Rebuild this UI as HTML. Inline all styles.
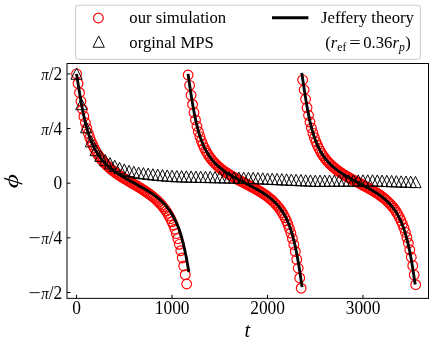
<!DOCTYPE html>
<html><head><meta charset="utf-8"><title>Jeffery orbit</title>
<style>html,body{margin:0;padding:0;background:#fff;}svg{display:block;}text{font-family:"Liberation Serif","DejaVu Serif",serif;fill:#000;}</style></head><body>
<svg width="433" height="343" viewBox="0 0 433 343">
<rect x="0" y="0" width="433" height="343" fill="#fff"/>
<g fill="none" stroke="#f00" stroke-width="1.15">
<circle cx="76.56" cy="73.90" r="4.86"/>
<circle cx="78.03" cy="83.45" r="4.86"/>
<circle cx="79.50" cy="92.68" r="4.86"/>
<circle cx="80.96" cy="101.34" r="4.86"/>
<circle cx="82.43" cy="109.26" r="4.86"/>
<circle cx="83.90" cy="116.39" r="4.86"/>
<circle cx="85.37" cy="122.73" r="4.86"/>
<circle cx="86.84" cy="128.34" r="4.86"/>
<circle cx="88.30" cy="133.28" r="4.86"/>
<circle cx="89.77" cy="137.64" r="4.86"/>
<circle cx="91.24" cy="141.51" r="4.86"/>
<circle cx="92.71" cy="144.95" r="4.86"/>
<circle cx="94.18" cy="148.03" r="4.86"/>
<circle cx="95.64" cy="150.79" r="4.86"/>
<circle cx="97.11" cy="153.29" r="4.86"/>
<circle cx="98.58" cy="155.57" r="4.86"/>
<circle cx="100.05" cy="157.65" r="4.86"/>
<circle cx="101.52" cy="159.56" r="4.86"/>
<circle cx="102.98" cy="161.32" r="4.86"/>
<circle cx="104.45" cy="162.96" r="4.86"/>
<circle cx="105.92" cy="164.49" r="4.86"/>
<circle cx="107.39" cy="165.93" r="4.86"/>
<circle cx="108.86" cy="167.28" r="4.86"/>
<circle cx="110.32" cy="168.56" r="4.86"/>
<circle cx="111.79" cy="169.77" r="4.86"/>
<circle cx="113.26" cy="170.93" r="4.86"/>
<circle cx="114.73" cy="172.04" r="4.86"/>
<circle cx="116.20" cy="173.11" r="4.86"/>
<circle cx="117.67" cy="174.14" r="4.86"/>
<circle cx="119.13" cy="175.13" r="4.86"/>
<circle cx="120.60" cy="176.10" r="4.86"/>
<circle cx="122.07" cy="177.04" r="4.86"/>
<circle cx="123.54" cy="177.97" r="4.86"/>
<circle cx="125.01" cy="178.87" r="4.86"/>
<circle cx="126.47" cy="179.76" r="4.86"/>
<circle cx="127.94" cy="180.64" r="4.86"/>
<circle cx="129.41" cy="181.51" r="4.86"/>
<circle cx="130.88" cy="182.38" r="4.86"/>
<circle cx="132.35" cy="183.25" r="4.86"/>
<circle cx="133.81" cy="184.11" r="4.86"/>
<circle cx="135.28" cy="184.98" r="4.86"/>
<circle cx="136.75" cy="185.85" r="4.86"/>
<circle cx="138.22" cy="186.73" r="4.86"/>
<circle cx="139.69" cy="187.63" r="4.86"/>
<circle cx="141.15" cy="188.53" r="4.86"/>
<circle cx="142.62" cy="189.46" r="4.86"/>
<circle cx="144.09" cy="190.40" r="4.86"/>
<circle cx="145.56" cy="191.37" r="4.86"/>
<circle cx="147.03" cy="192.37" r="4.86"/>
<circle cx="148.49" cy="193.41" r="4.86"/>
<circle cx="149.96" cy="194.48" r="4.86"/>
<circle cx="151.43" cy="195.59" r="4.86"/>
<circle cx="152.90" cy="196.75" r="4.86"/>
<circle cx="154.37" cy="197.98" r="4.86"/>
<circle cx="155.83" cy="199.26" r="4.86"/>
<circle cx="157.30" cy="200.62" r="4.86"/>
<circle cx="158.77" cy="202.07" r="4.86"/>
<circle cx="160.24" cy="203.61" r="4.86"/>
<circle cx="161.71" cy="205.26" r="4.86"/>
<circle cx="163.17" cy="207.04" r="4.86"/>
<circle cx="164.64" cy="208.97" r="4.86"/>
<circle cx="166.11" cy="211.07" r="4.86"/>
<circle cx="167.58" cy="213.36" r="4.86"/>
<circle cx="169.05" cy="215.89" r="4.86"/>
<circle cx="170.51" cy="218.69" r="4.86"/>
<circle cx="171.98" cy="221.80" r="4.86"/>
<circle cx="173.45" cy="225.28" r="4.86"/>
<circle cx="174.92" cy="229.20" r="4.86"/>
<circle cx="176.39" cy="233.62" r="4.86"/>
<circle cx="177.85" cy="238.63" r="4.86"/>
<circle cx="179.32" cy="244.31" r="4.86"/>
<circle cx="180.79" cy="250.73" r="4.86"/>
<circle cx="182.26" cy="257.95" r="4.86"/>
<circle cx="183.73" cy="265.96" r="4.86"/>
<circle cx="185.20" cy="274.69" r="4.86"/>
<circle cx="186.66" cy="283.97" r="4.86"/>
<circle cx="188.13" cy="75.02" r="4.86"/>
<circle cx="189.60" cy="85.37" r="4.86"/>
<circle cx="191.07" cy="95.27" r="4.86"/>
<circle cx="192.54" cy="104.41" r="4.86"/>
<circle cx="194.00" cy="112.63" r="4.86"/>
<circle cx="195.47" cy="119.90" r="4.86"/>
<circle cx="196.94" cy="126.25" r="4.86"/>
<circle cx="198.41" cy="131.78" r="4.86"/>
<circle cx="199.88" cy="136.59" r="4.86"/>
<circle cx="201.34" cy="140.80" r="4.86"/>
<circle cx="202.81" cy="144.49" r="4.86"/>
<circle cx="204.28" cy="147.75" r="4.86"/>
<circle cx="205.75" cy="150.64" r="4.86"/>
<circle cx="207.22" cy="153.23" r="4.86"/>
<circle cx="208.68" cy="155.55" r="4.86"/>
<circle cx="210.15" cy="157.66" r="4.86"/>
<circle cx="211.62" cy="159.58" r="4.86"/>
<circle cx="213.09" cy="161.34" r="4.86"/>
<circle cx="214.56" cy="162.96" r="4.86"/>
<circle cx="216.02" cy="164.46" r="4.86"/>
<circle cx="217.49" cy="165.86" r="4.86"/>
<circle cx="218.96" cy="167.17" r="4.86"/>
<circle cx="220.43" cy="168.39" r="4.86"/>
<circle cx="221.90" cy="169.55" r="4.86"/>
<circle cx="223.36" cy="170.66" r="4.86"/>
<circle cx="224.83" cy="171.70" r="4.86"/>
<circle cx="226.30" cy="172.70" r="4.86"/>
<circle cx="227.77" cy="173.66" r="4.86"/>
<circle cx="229.24" cy="174.59" r="4.86"/>
<circle cx="230.70" cy="175.48" r="4.86"/>
<circle cx="232.17" cy="176.35" r="4.86"/>
<circle cx="233.64" cy="177.19" r="4.86"/>
<circle cx="235.11" cy="178.02" r="4.86"/>
<circle cx="236.58" cy="178.83" r="4.86"/>
<circle cx="238.04" cy="179.62" r="4.86"/>
<circle cx="239.51" cy="180.40" r="4.86"/>
<circle cx="240.98" cy="181.17" r="4.86"/>
<circle cx="242.45" cy="181.94" r="4.86"/>
<circle cx="243.92" cy="182.70" r="4.86"/>
<circle cx="245.38" cy="183.47" r="4.86"/>
<circle cx="246.85" cy="184.23" r="4.86"/>
<circle cx="248.32" cy="184.99" r="4.86"/>
<circle cx="249.79" cy="185.76" r="4.86"/>
<circle cx="251.26" cy="186.54" r="4.86"/>
<circle cx="252.73" cy="187.33" r="4.86"/>
<circle cx="254.19" cy="188.13" r="4.86"/>
<circle cx="255.66" cy="188.95" r="4.86"/>
<circle cx="257.13" cy="189.79" r="4.86"/>
<circle cx="258.60" cy="190.65" r="4.86"/>
<circle cx="260.07" cy="191.54" r="4.86"/>
<circle cx="261.53" cy="192.45" r="4.86"/>
<circle cx="263.00" cy="193.40" r="4.86"/>
<circle cx="264.47" cy="194.39" r="4.86"/>
<circle cx="265.94" cy="195.42" r="4.86"/>
<circle cx="267.41" cy="196.51" r="4.86"/>
<circle cx="268.87" cy="197.65" r="4.86"/>
<circle cx="270.34" cy="198.85" r="4.86"/>
<circle cx="271.81" cy="200.14" r="4.86"/>
<circle cx="273.28" cy="201.51" r="4.86"/>
<circle cx="274.75" cy="202.97" r="4.86"/>
<circle cx="276.21" cy="204.56" r="4.86"/>
<circle cx="277.68" cy="206.27" r="4.86"/>
<circle cx="279.15" cy="208.14" r="4.86"/>
<circle cx="280.62" cy="210.19" r="4.86"/>
<circle cx="282.09" cy="212.44" r="4.86"/>
<circle cx="283.55" cy="214.95" r="4.86"/>
<circle cx="285.02" cy="217.74" r="4.86"/>
<circle cx="286.49" cy="220.88" r="4.86"/>
<circle cx="287.96" cy="224.43" r="4.86"/>
<circle cx="289.43" cy="228.47" r="4.86"/>
<circle cx="290.89" cy="233.09" r="4.86"/>
<circle cx="292.36" cy="238.39" r="4.86"/>
<circle cx="293.83" cy="244.48" r="4.86"/>
<circle cx="295.30" cy="251.46" r="4.86"/>
<circle cx="296.77" cy="259.39" r="4.86"/>
<circle cx="298.23" cy="268.27" r="4.86"/>
<circle cx="299.70" cy="277.96" r="4.86"/>
<circle cx="301.17" cy="288.21" r="4.86"/>
<circle cx="302.64" cy="79.86" r="4.86"/>
<circle cx="304.11" cy="89.76" r="4.86"/>
<circle cx="305.57" cy="99.10" r="4.86"/>
<circle cx="307.04" cy="107.64" r="4.86"/>
<circle cx="308.51" cy="115.29" r="4.86"/>
<circle cx="309.98" cy="122.05" r="4.86"/>
<circle cx="311.45" cy="127.97" r="4.86"/>
<circle cx="312.91" cy="133.15" r="4.86"/>
<circle cx="314.38" cy="137.68" r="4.86"/>
<circle cx="315.85" cy="141.66" r="4.86"/>
<circle cx="317.32" cy="145.17" r="4.86"/>
<circle cx="318.79" cy="148.28" r="4.86"/>
<circle cx="320.26" cy="151.06" r="4.86"/>
<circle cx="321.72" cy="153.56" r="4.86"/>
<circle cx="323.19" cy="155.81" r="4.86"/>
<circle cx="324.66" cy="157.86" r="4.86"/>
<circle cx="326.13" cy="159.73" r="4.86"/>
<circle cx="327.60" cy="161.45" r="4.86"/>
<circle cx="329.06" cy="163.05" r="4.86"/>
<circle cx="330.53" cy="164.52" r="4.86"/>
<circle cx="332.00" cy="165.90" r="4.86"/>
<circle cx="333.47" cy="167.20" r="4.86"/>
<circle cx="334.94" cy="168.42" r="4.86"/>
<circle cx="336.40" cy="169.57" r="4.86"/>
<circle cx="337.87" cy="170.66" r="4.86"/>
<circle cx="339.34" cy="171.71" r="4.86"/>
<circle cx="340.81" cy="172.71" r="4.86"/>
<circle cx="342.28" cy="173.67" r="4.86"/>
<circle cx="343.74" cy="174.59" r="4.86"/>
<circle cx="345.21" cy="175.49" r="4.86"/>
<circle cx="346.68" cy="176.36" r="4.86"/>
<circle cx="348.15" cy="177.20" r="4.86"/>
<circle cx="349.62" cy="178.03" r="4.86"/>
<circle cx="351.08" cy="178.84" r="4.86"/>
<circle cx="352.55" cy="179.64" r="4.86"/>
<circle cx="354.02" cy="180.43" r="4.86"/>
<circle cx="355.49" cy="181.20" r="4.86"/>
<circle cx="356.96" cy="181.98" r="4.86"/>
<circle cx="358.42" cy="182.75" r="4.86"/>
<circle cx="359.89" cy="183.51" r="4.86"/>
<circle cx="361.36" cy="184.28" r="4.86"/>
<circle cx="362.83" cy="185.05" r="4.86"/>
<circle cx="364.30" cy="185.83" r="4.86"/>
<circle cx="365.76" cy="186.61" r="4.86"/>
<circle cx="367.23" cy="187.41" r="4.86"/>
<circle cx="368.70" cy="188.22" r="4.86"/>
<circle cx="370.17" cy="189.04" r="4.86"/>
<circle cx="371.64" cy="189.88" r="4.86"/>
<circle cx="373.10" cy="190.75" r="4.86"/>
<circle cx="374.57" cy="191.64" r="4.86"/>
<circle cx="376.04" cy="192.56" r="4.86"/>
<circle cx="377.51" cy="193.51" r="4.86"/>
<circle cx="378.98" cy="194.50" r="4.86"/>
<circle cx="380.44" cy="195.54" r="4.86"/>
<circle cx="381.91" cy="196.62" r="4.86"/>
<circle cx="383.38" cy="197.77" r="4.86"/>
<circle cx="384.85" cy="198.97" r="4.86"/>
<circle cx="386.32" cy="200.25" r="4.86"/>
<circle cx="387.78" cy="201.61" r="4.86"/>
<circle cx="389.25" cy="203.07" r="4.86"/>
<circle cx="390.72" cy="204.64" r="4.86"/>
<circle cx="392.19" cy="206.34" r="4.86"/>
<circle cx="393.66" cy="208.18" r="4.86"/>
<circle cx="395.13" cy="210.20" r="4.86"/>
<circle cx="396.59" cy="212.41" r="4.86"/>
<circle cx="398.06" cy="214.86" r="4.86"/>
<circle cx="399.53" cy="217.58" r="4.86"/>
<circle cx="401.00" cy="220.63" r="4.86"/>
<circle cx="402.47" cy="224.06" r="4.86"/>
<circle cx="403.93" cy="227.94" r="4.86"/>
<circle cx="405.40" cy="232.36" r="4.86"/>
<circle cx="406.87" cy="237.41" r="4.86"/>
<circle cx="408.34" cy="243.19" r="4.86"/>
<circle cx="409.81" cy="249.79" r="4.86"/>
<circle cx="411.27" cy="257.27" r="4.86"/>
<circle cx="412.74" cy="265.65" r="4.86"/>
<circle cx="414.21" cy="274.86" r="4.86"/>
<circle cx="415.68" cy="284.67" r="4.86"/>
</g>
<g fill="none" stroke="#000" stroke-width="0.95" stroke-linejoin="miter">
<path d="M76.56,67.95 L70.91,79.25 L82.21,79.25 Z M81.33,98.45 L75.68,109.75 L86.98,109.75 Z M86.11,121.45 L80.46,132.75 L91.76,132.75 Z M90.88,135.55 L85.23,146.85 L96.53,146.85 Z M95.65,144.35 L90.00,155.65 L101.30,155.65 Z M100.43,150.15 L94.78,161.45 L106.08,161.45 Z M105.20,154.45 L99.55,165.75 L110.85,165.75 Z M109.97,157.65 L104.32,168.95 L115.62,168.95 Z M114.75,160.25 L109.10,171.55 L120.40,171.55 Z M119.52,162.35 L113.87,173.65 L125.17,173.65 Z M124.30,163.95 L118.64,175.25 L129.94,175.25 Z M129.07,165.25 L123.42,176.55 L134.72,176.55 Z M133.84,166.35 L128.19,177.65 L139.49,177.65 Z M138.62,167.15 L132.97,178.45 L144.27,178.45 Z M143.39,167.65 L137.74,178.95 L149.04,178.95 Z M148.16,168.15 L142.51,179.45 L153.81,179.45 Z M152.94,168.75 L147.29,180.05 L158.59,180.05 Z M157.71,169.15 L152.06,180.45 L163.36,180.45 Z M162.48,169.55 L156.83,180.85 L168.13,180.85 Z M167.26,169.95 L161.61,181.25 L172.91,181.25 Z M172.03,170.25 L166.38,181.55 L177.68,181.55 Z M176.80,170.55 L171.15,181.85 L182.45,181.85 Z M181.58,170.65 L175.93,181.95 L187.23,181.95 Z M186.35,170.85 L180.70,182.15 L192.00,182.15 Z M191.12,170.95 L185.47,182.25 L196.77,182.25 Z M195.90,171.10 L190.25,182.40 L201.55,182.40 Z M200.67,171.15 L195.02,182.45 L206.32,182.45 Z M205.44,171.26 L199.79,182.56 L211.09,182.56 Z M210.22,171.37 L204.57,182.67 L215.87,182.67 Z M214.99,171.48 L209.34,182.78 L220.64,182.78 Z M219.77,171.59 L214.12,182.89 L225.42,182.89 Z M224.54,171.70 L218.89,183.00 L230.19,183.00 Z M229.31,171.80 L223.66,183.10 L234.96,183.10 Z M234.09,171.91 L228.44,183.21 L239.74,183.21 Z M238.86,172.02 L233.21,183.32 L244.51,183.32 Z M243.63,172.13 L237.98,183.43 L249.28,183.43 Z M248.41,172.24 L242.76,183.54 L254.06,183.54 Z M253.18,172.35 L247.53,183.65 L258.83,183.65 Z M257.95,172.57 L252.30,183.87 L263.60,183.87 Z M262.73,172.78 L257.08,184.08 L268.38,184.08 Z M267.50,173.00 L261.85,184.30 L273.15,184.30 Z M272.27,173.21 L266.62,184.51 L277.92,184.51 Z M277.05,173.43 L271.40,184.73 L282.70,184.73 Z M281.82,173.64 L276.17,184.94 L287.47,184.94 Z M286.59,173.86 L280.94,185.16 L292.24,185.16 Z M291.37,174.07 L285.72,185.37 L297.02,185.37 Z M296.14,174.29 L290.49,185.59 L301.79,185.59 Z M300.91,174.50 L295.26,185.80 L306.56,185.80 Z M305.69,174.72 L300.04,186.02 L311.34,186.02 Z M310.46,174.93 L304.81,186.23 L316.11,186.23 Z M315.24,175.15 L309.59,186.45 L320.88,186.45 Z M320.01,175.12 L314.36,186.42 L325.66,186.42 Z M324.78,175.08 L319.13,186.38 L330.43,186.38 Z M329.56,175.05 L323.91,186.35 L335.21,186.35 Z M334.33,175.02 L328.68,186.32 L339.98,186.32 Z M339.10,174.98 L333.45,186.28 L344.75,186.28 Z M343.88,174.95 L338.23,186.25 L349.53,186.25 Z M348.65,174.92 L343.00,186.22 L354.30,186.22 Z M353.42,174.88 L347.77,186.18 L359.07,186.18 Z M358.20,174.85 L352.55,186.15 L363.85,186.15 Z M362.97,174.82 L357.32,186.12 L368.62,186.12 Z M367.74,174.78 L362.09,186.08 L373.39,186.08 Z M372.52,174.75 L366.87,186.05 L378.17,186.05 Z M377.29,174.93 L371.64,186.23 L382.94,186.23 Z M382.06,175.11 L376.41,186.41 L387.71,186.41 Z M386.84,175.28 L381.19,186.58 L392.49,186.58 Z M391.61,175.46 L385.96,186.76 L397.26,186.76 Z M396.38,175.64 L390.73,186.94 L402.03,186.94 Z M401.16,175.82 L395.51,187.12 L406.81,187.12 Z M405.93,175.99 L400.28,187.29 L411.58,187.29 Z M410.70,176.17 L405.06,187.47 L416.35,187.47 Z M415.48,176.35 L409.83,187.65 L421.13,187.65 Z"/>
</g>
<g fill="none" stroke="#000" stroke-width="2.85" stroke-linecap="butt" stroke-linejoin="round">
<path d="M76.56,73.90 L77.03,76.95 L77.50,79.99 L77.96,83.01 L78.43,86.00 L78.90,88.94 L79.37,91.84 L79.83,94.68 L80.30,97.46 L80.77,100.17 L81.24,102.81 L81.71,105.36 L82.17,107.84 L82.64,110.24 L83.11,112.56 L83.58,114.79 L84.04,116.94 L84.51,119.02 L84.98,121.01 L85.45,122.93 L85.92,124.77 L86.38,126.54 L86.85,128.24 L87.32,129.87 L87.79,131.44 L88.26,132.95 L88.72,134.40 L89.19,135.79 L89.66,137.13 L90.13,138.42 L90.59,139.66 L91.06,140.85 L91.53,142.00 L92.00,143.11 L92.47,144.18 L92.93,145.21 L93.40,146.20 L93.87,147.16 L94.34,148.08 L94.80,148.98 L95.27,149.84 L95.74,150.68 L96.21,151.49 L96.68,152.28 L97.14,153.04 L97.61,153.78 L98.08,154.50 L98.55,155.19 L99.01,155.87 L99.48,156.52 L99.95,157.16 L100.42,157.79 L100.89,158.39 L101.35,158.98 L101.82,159.55 L102.29,160.12 L102.76,160.66 L103.22,161.20 L103.69,161.72 L104.16,162.23 L104.63,162.72 L105.10,163.21 L105.56,163.69 L106.03,164.15 L106.50,164.61 L106.97,165.05 L107.43,165.49 L107.90,165.92 L108.37,166.34 L108.84,166.76 L109.31,167.16 L109.77,167.56 L110.24,167.96 L110.71,168.34 L111.18,168.72 L111.65,169.09 L112.11,169.46 L112.58,169.82 L113.05,170.18 L113.52,170.53 L113.98,170.87 L114.45,171.22 L114.92,171.55 L115.39,171.88 L115.86,172.21 L116.32,172.54 L116.79,172.86 L117.26,173.17 L117.73,173.49 L118.19,173.79 L118.66,174.10 L119.13,174.40 L119.60,174.70 L120.07,175.00 L120.53,175.29 L121.00,175.58 L121.47,175.87 L121.94,176.16 L122.40,176.44 L122.87,176.73 L123.34,177.01 L123.81,177.28 L124.28,177.56 L124.74,177.83 L125.21,178.11 L125.68,178.38 L126.15,178.65 L126.61,178.91 L127.08,179.18 L127.55,179.45 L128.02,179.71 L128.49,179.97 L128.95,180.24 L129.42,180.50 L129.89,180.76 L130.36,181.02 L130.83,181.28 L131.29,181.54 L131.76,181.79 L132.23,182.05 L132.70,182.31 L133.16,182.57 L133.63,182.82 L134.10,183.08 L134.57,183.34 L135.04,183.59 L135.50,183.85 L135.97,184.11 L136.44,184.36 L136.91,184.62 L137.37,184.88 L137.84,185.14 L138.31,185.40 L138.78,185.66 L139.25,185.92 L139.71,186.18 L140.18,186.44 L140.65,186.71 L141.12,186.97 L141.58,187.24 L142.05,187.50 L142.52,187.77 L142.99,188.04 L143.46,188.31 L143.92,188.58 L144.39,188.86 L144.86,189.13 L145.33,189.41 L145.79,189.69 L146.26,189.97 L146.73,190.26 L147.20,190.54 L147.67,190.83 L148.13,191.12 L148.60,191.42 L149.07,191.72 L149.54,192.02 L150.01,192.32 L150.47,192.62 L150.94,192.93 L151.41,193.25 L151.88,193.56 L152.34,193.88 L152.81,194.21 L153.28,194.54 L153.75,194.87 L154.22,195.20 L154.68,195.55 L155.15,195.89 L155.62,196.24 L156.09,196.60 L156.55,196.96 L157.02,197.33 L157.49,197.70 L157.96,198.08 L158.43,198.47 L158.89,198.86 L159.36,199.26 L159.83,199.67 L160.30,200.08 L160.76,200.50 L161.23,200.93 L161.70,201.37 L162.17,201.82 L162.64,202.28 L163.10,202.74 L163.57,203.22 L164.04,203.71 L164.51,204.21 L164.97,204.72 L165.44,205.24 L165.91,205.77 L166.38,206.32 L166.85,206.88 L167.31,207.46 L167.78,208.05 L168.25,208.65 L168.72,209.28 L169.18,209.92 L169.65,210.57 L170.12,211.25 L170.59,211.95 L171.06,212.67 L171.52,213.41 L171.99,214.17 L172.46,214.96 L172.93,215.77 L173.40,216.61 L173.86,217.48 L174.33,218.37 L174.80,219.30 L175.27,220.26 L175.73,221.26 L176.20,222.29 L176.67,223.36 L177.14,224.47 L177.61,225.62 L178.07,226.81 L178.54,228.06 L179.01,229.35 L179.48,230.69 L179.94,232.09 L180.41,233.54 L180.88,235.05 L181.35,236.62 L181.82,238.26 L182.28,239.97 L182.75,241.74 L183.22,243.59 L183.69,245.51 L184.15,247.51 L184.62,249.59 L185.09,251.74 L185.56,253.98 L186.03,256.30 L186.49,258.71 L186.96,261.19 L187.43,263.75 L187.90,266.39 L188.36,269.11 L188.83,271.89"/>
<path d="M188.07,73.90 L188.54,77.25 L189.02,80.58 L189.49,83.89 L189.97,87.15 L190.44,90.36 L190.92,93.51 L191.39,96.58 L191.87,99.57 L192.34,102.47 L192.82,105.28 L193.29,108.00 L193.77,110.61 L194.24,113.12 L194.72,115.54 L195.19,117.85 L195.67,120.07 L196.14,122.20 L196.62,124.23 L197.09,126.18 L197.57,128.04 L198.04,129.82 L198.52,131.52 L198.99,133.15 L199.47,134.71 L199.94,136.20 L200.42,137.63 L200.89,139.00 L201.37,140.31 L201.84,141.56 L202.32,142.77 L202.79,143.92 L203.27,145.04 L203.74,146.10 L204.22,147.13 L204.69,148.12 L205.17,149.07 L205.64,149.99 L206.12,150.87 L206.59,151.72 L207.07,152.55 L207.54,153.34 L208.02,154.11 L208.49,154.85 L208.97,155.58 L209.44,156.27 L209.92,156.95 L210.39,157.60 L210.87,158.24 L211.34,158.86 L211.82,159.46 L212.29,160.04 L212.77,160.61 L213.24,161.16 L213.72,161.70 L214.19,162.23 L214.67,162.74 L215.14,163.24 L215.62,163.73 L216.09,164.20 L216.57,164.67 L217.04,165.12 L217.52,165.57 L217.99,166.00 L218.47,166.43 L218.94,166.84 L219.42,167.25 L219.89,167.65 L220.37,168.05 L220.84,168.43 L221.32,168.81 L221.79,169.18 L222.27,169.55 L222.74,169.91 L223.22,170.26 L223.69,170.61 L224.17,170.95 L224.64,171.29 L225.12,171.62 L225.59,171.95 L226.07,172.27 L226.54,172.59 L227.02,172.90 L227.49,173.21 L227.97,173.52 L228.44,173.82 L228.92,174.12 L229.39,174.41 L229.87,174.70 L230.34,174.99 L230.82,175.28 L231.29,175.56 L231.77,175.84 L232.24,176.12 L232.72,176.40 L233.19,176.67 L233.67,176.94 L234.14,177.21 L234.62,177.47 L235.09,177.74 L235.57,178.00 L236.04,178.26 L236.52,178.52 L236.99,178.78 L237.47,179.03 L237.94,179.29 L238.42,179.54 L238.89,179.79 L239.36,180.05 L239.84,180.30 L240.31,180.54 L240.79,180.79 L241.26,181.04 L241.74,181.29 L242.21,181.53 L242.69,181.78 L243.16,182.03 L243.64,182.27 L244.11,182.51 L244.59,182.76 L245.06,183.00 L245.54,183.25 L246.01,183.49 L246.49,183.74 L246.96,183.98 L247.44,184.23 L247.91,184.47 L248.39,184.72 L248.86,184.96 L249.34,185.21 L249.81,185.46 L250.29,185.70 L250.76,185.95 L251.24,186.20 L251.71,186.45 L252.19,186.70 L252.66,186.96 L253.14,187.21 L253.61,187.47 L254.09,187.72 L254.56,187.98 L255.04,188.24 L255.51,188.50 L255.99,188.77 L256.46,189.03 L256.94,189.30 L257.41,189.57 L257.89,189.84 L258.36,190.11 L258.84,190.39 L259.31,190.67 L259.79,190.95 L260.26,191.23 L260.74,191.52 L261.21,191.81 L261.69,192.10 L262.16,192.40 L262.64,192.70 L263.11,193.00 L263.59,193.31 L264.06,193.62 L264.54,193.94 L265.01,194.26 L265.49,194.58 L265.96,194.91 L266.44,195.24 L266.91,195.58 L267.39,195.93 L267.86,196.28 L268.34,196.63 L268.81,197.00 L269.29,197.36 L269.76,197.74 L270.24,198.12 L270.71,198.51 L271.19,198.90 L271.66,199.31 L272.14,199.72 L272.61,200.14 L273.09,200.57 L273.56,201.01 L274.04,201.46 L274.51,201.91 L274.99,202.38 L275.46,202.86 L275.94,203.36 L276.41,203.86 L276.89,204.38 L277.36,204.91 L277.84,205.45 L278.31,206.01 L278.79,206.58 L279.26,207.17 L279.74,207.78 L280.21,208.41 L280.69,209.05 L281.16,209.71 L281.64,210.40 L282.11,211.10 L282.59,211.83 L283.06,212.59 L283.54,213.37 L284.01,214.17 L284.49,215.01 L284.96,215.87 L285.44,216.77 L285.91,217.70 L286.39,218.66 L286.86,219.67 L287.34,220.71 L287.81,221.79 L288.29,222.92 L288.76,224.10 L289.24,225.32 L289.71,226.60 L290.19,227.93 L290.66,229.32 L291.14,230.77 L291.61,232.29 L292.09,233.88 L292.56,235.53 L293.04,237.27 L293.51,239.08 L293.99,240.97 L294.46,242.95 L294.94,245.02 L295.41,247.19 L295.89,249.44 L296.36,251.80 L296.84,254.25 L297.31,256.80 L297.79,259.46 L298.26,262.21 L298.74,265.05 L299.21,267.99 L299.69,271.01 L300.16,274.11 L300.64,277.29 L301.11,280.52 L301.59,283.80 L302.06,287.12"/>
<path d="M301.84,72.90 L301.96,73.90 L302.44,77.18 L302.91,80.44 L303.38,83.68 L303.85,86.88 L304.32,90.02 L304.80,93.11 L305.27,96.13 L305.74,99.07 L306.21,101.92 L306.68,104.69 L307.15,107.37 L307.63,109.95 L308.10,112.44 L308.57,114.83 L309.04,117.13 L309.51,119.34 L309.98,121.45 L310.46,123.48 L310.93,125.42 L311.40,127.28 L311.87,129.06 L312.34,130.76 L312.82,132.40 L313.29,133.96 L313.76,135.45 L314.23,136.89 L314.70,138.26 L315.17,139.58 L315.65,140.85 L316.12,142.06 L316.59,143.23 L317.06,144.35 L317.53,145.42 L318.01,146.46 L318.48,147.46 L318.95,148.42 L319.42,149.35 L319.89,150.24 L320.36,151.11 L320.84,151.94 L321.31,152.75 L321.78,153.53 L322.25,154.28 L322.72,155.01 L323.19,155.72 L323.67,156.40 L324.14,157.07 L324.61,157.72 L325.08,158.34 L325.55,158.95 L326.03,159.55 L326.50,160.12 L326.97,160.68 L327.44,161.23 L327.91,161.77 L328.38,162.29 L328.86,162.79 L329.33,163.29 L329.80,163.77 L330.27,164.24 L330.74,164.71 L331.22,165.16 L331.69,165.60 L332.16,166.03 L332.63,166.46 L333.10,166.87 L333.57,167.28 L334.05,167.68 L334.52,168.08 L334.99,168.46 L335.46,168.84 L335.93,169.21 L336.40,169.58 L336.88,169.94 L337.35,170.29 L337.82,170.64 L338.29,170.98 L338.76,171.32 L339.24,171.65 L339.71,171.98 L340.18,172.31 L340.65,172.62 L341.12,172.94 L341.59,173.25 L342.07,173.56 L342.54,173.86 L343.01,174.16 L343.48,174.46 L343.95,174.75 L344.42,175.05 L344.90,175.33 L345.37,175.62 L345.84,175.90 L346.31,176.18 L346.78,176.46 L347.26,176.73 L347.73,177.01 L348.20,177.28 L348.67,177.55 L349.14,177.81 L349.61,178.08 L350.09,178.34 L350.56,178.60 L351.03,178.86 L351.50,179.12 L351.97,179.38 L352.45,179.64 L352.92,179.89 L353.39,180.15 L353.86,180.40 L354.33,180.65 L354.80,180.91 L355.28,181.16 L355.75,181.41 L356.22,181.66 L356.69,181.91 L357.16,182.15 L357.63,182.40 L358.11,182.65 L358.58,182.90 L359.05,183.15 L359.52,183.39 L359.99,183.64 L360.47,183.89 L360.94,184.14 L361.41,184.39 L361.88,184.64 L362.35,184.89 L362.82,185.14 L363.30,185.39 L363.77,185.64 L364.24,185.89 L364.71,186.14 L365.18,186.40 L365.66,186.65 L366.13,186.91 L366.60,187.17 L367.07,187.42 L367.54,187.68 L368.01,187.95 L368.49,188.21 L368.96,188.47 L369.43,188.74 L369.90,189.01 L370.37,189.28 L370.84,189.55 L371.32,189.82 L371.79,190.10 L372.26,190.38 L372.73,190.66 L373.20,190.94 L373.68,191.23 L374.15,191.52 L374.62,191.81 L375.09,192.11 L375.56,192.41 L376.03,192.71 L376.51,193.02 L376.98,193.33 L377.45,193.64 L377.92,193.96 L378.39,194.28 L378.86,194.61 L379.34,194.94 L379.81,195.27 L380.28,195.61 L380.75,195.96 L381.22,196.31 L381.70,196.67 L382.17,197.03 L382.64,197.40 L383.11,197.78 L383.58,198.16 L384.05,198.55 L384.53,198.95 L385.00,199.35 L385.47,199.76 L385.94,200.18 L386.41,200.61 L386.89,201.05 L387.36,201.50 L387.83,201.96 L388.30,202.42 L388.77,202.90 L389.24,203.39 L389.72,203.90 L390.19,204.41 L390.66,204.94 L391.13,205.48 L391.60,206.03 L392.07,206.61 L392.55,207.19 L393.02,207.79 L393.49,208.41 L393.96,209.05 L394.43,209.71 L394.91,210.39 L395.38,211.08 L395.85,211.80 L396.32,212.55 L396.79,213.32 L397.26,214.11 L397.74,214.93 L398.21,215.78 L398.68,216.66 L399.15,217.58 L399.62,218.52 L400.10,219.51 L400.57,220.53 L401.04,221.59 L401.51,222.69 L401.98,223.84 L402.45,225.03 L402.93,226.27 L403.40,227.57 L403.87,228.92 L404.34,230.32 L404.81,231.79 L405.28,233.33 L405.76,234.93 L406.23,236.60 L406.70,238.35 L407.17,240.17 L407.64,242.08 L408.12,244.07 L408.59,246.15 L409.06,248.31 L409.53,250.57 L410.00,252.92 L410.47,255.37 L410.95,257.91 L411.42,260.55 L411.89,263.28 L412.36,266.10 L412.83,269.00 L413.30,271.99 L413.78,275.05 L414.25,278.17 L414.72,281.35 L415.19,284.57"/>
</g>
<rect x="67.00" y="63.50" width="361.50" height="234.85" fill="none" stroke="#000" stroke-width="1"/>
<path d="M76.56,298.35 v-3.50 M172.03,298.35 v-3.50 M267.50,298.35 v-3.50 M362.97,298.35 v-3.50 M67.00,73.90 h3.50 M67.00,128.55 h3.50 M67.00,183.20 h3.50 M67.00,237.85 h3.50 M67.00,292.50 h3.50" stroke="#000" stroke-width="1" fill="none"/>
<text transform="translate(76.66,314.3) scale(1,1.06)" font-size="17.4" text-anchor="middle">0</text>
<text transform="translate(172.13,314.3) scale(1,1.06)" font-size="17.4" text-anchor="middle">1000</text>
<text transform="translate(267.60,314.3) scale(1,1.06)" font-size="17.4" text-anchor="middle">2000</text>
<text transform="translate(363.07,314.3) scale(1,1.06)" font-size="17.4" text-anchor="middle">3000</text>
<text transform="translate(62.2,80.10) scale(1,1.06)" font-size="17.4" text-anchor="end"><tspan font-style="italic" font-size="15">π</tspan>/2</text>
<text transform="translate(62.2,134.75) scale(1,1.06)" font-size="17.4" text-anchor="end"><tspan font-style="italic" font-size="15">π</tspan>/4</text>
<text transform="translate(62.2,189.40) scale(1,1.06)" font-size="17.4" text-anchor="end">0</text>
<text transform="translate(62.2,244.05) scale(1,1.06)" font-size="17.4" text-anchor="end"><tspan font-style="italic" font-size="15">π</tspan>/4</text>
<text transform="translate(62.2,298.70) scale(1,1.06)" font-size="17.4" text-anchor="end"><tspan font-style="italic" font-size="15">π</tspan>/2</text>
<text transform="translate(40.7,244.05) scale(1.25,1.06)" font-size="17.4" text-anchor="end">−</text>
<text transform="translate(40.7,298.70) scale(1.25,1.06)" font-size="17.4" text-anchor="end">−</text>
<text x="247.4" y="337.2" font-size="20.5" font-style="italic" text-anchor="middle">t</text>
<text transform="translate(17.6,181.5) rotate(-90) scale(1.36,1) skewX(-3)" font-size="20" font-style="italic" text-anchor="middle">ϕ</text>
<rect x="75.5" y="5.2" width="344.8" height="54.1" rx="2.8" ry="2.8" fill="#fff" stroke="#ccc" stroke-width="1"/>
<circle cx="98.4" cy="18" r="4.86" fill="none" stroke="#f00" stroke-width="1.15"/>
<path d="M98.70,35.95 L93.05,47.25 L104.35,47.25 Z" fill="none" stroke="#000" stroke-width="0.95"/>
<path d="M272,17.7 H308.4" fill="none" stroke="#000" stroke-width="2.85"/>
<text transform="translate(129.3,23.4) scale(1,1.04)" font-size="16.7">our simulation</text>
<text transform="translate(129.3,47.6) scale(1,1.04)" font-size="16.7">orginal MPS</text>
<text transform="translate(321.1,23.4) scale(1,1.04)" font-size="16.7">Jeffery theory</text>
<text transform="translate(0,47.9) scale(1,1.04)" font-size="16.7"><tspan x="325.2">(</tspan><tspan font-style="italic">r</tspan><tspan font-size="11.6" dy="2.6">ef</tspan><tspan dy="-2.6" x="363.2">0.36</tspan><tspan font-style="italic">r</tspan><tspan font-size="11.6" font-style="italic" dy="2.6">p</tspan><tspan dy="-2.6" x="405.3">)</tspan></text>
<text transform="translate(349.3,47.9) scale(1.22,1.04)" font-size="16.7">=</text>
</svg></body></html>
